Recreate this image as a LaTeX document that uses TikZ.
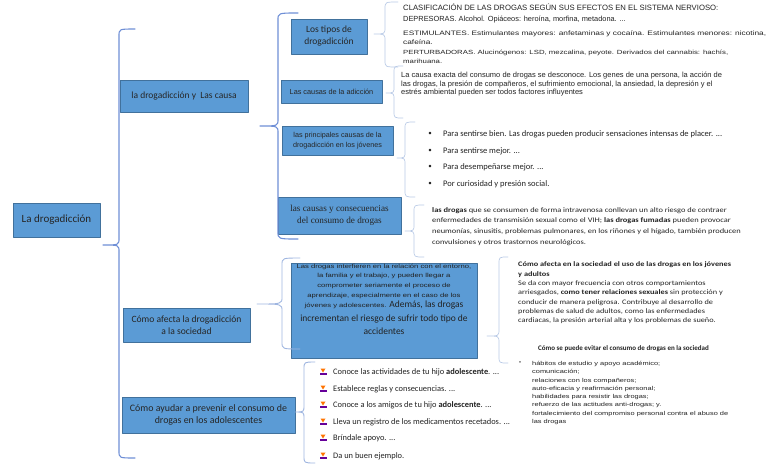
\documentclass[tikz,border=0pt]{standalone}
\usepackage{fontspec}
\setmainfont{Carlito}
\newfontfamily\arialf{Liberation Sans}
\newfontfamily\widearial[FakeStretch=1.3]{Liberation Sans}
\newfontfamily\widecal[FakeStretch=1.2]{Carlito}
\newfontfamily\timesf{Liberation Serif}
\usetikzlibrary{calc,positioning}
\definecolor{boxblue}{HTML}{5B9BD5}
\definecolor{boxedge}{HTML}{41719C}
\definecolor{bracedark}{HTML}{6F8FD6}
\definecolor{bracemid}{HTML}{9FB6E0}
\definecolor{bracelight}{HTML}{B9CAE6}
\definecolor{inktext}{HTML}{222222}

% curly bracket: [style] tip, line offset, top, bottom, curl
\newcommand{\brc}[6][brace light]{%
  \draw[#1] ($(#2)+(#3+#6,#4)$) .. controls ($(#2)+(#3,#4)$) .. ($(#2)+(#3,#4+7)$)
    -- ($(#2)+(#3,-7)$) .. controls ($(#2)+(#3,0)$) .. (#2)
    .. controls ($(#2)+(#3,0)$) .. ($(#2)+(#3,7)$)
    -- ($(#2)+(#3,#5-7)$) .. controls ($(#2)+(#3,#5)$) .. ($(#2)+(#3+#6,#5)$);}
\newcommand{\bigline}[1]{{\rmfamily\fontsize{9.5}{11}\selectfont #1}}

\begin{document}
\begin{tikzpicture}[x=1pt,y=-1pt,line cap=round,line join=round,
  every node/.style={inner sep=1pt,text=inktext},
  box/.style={fill=boxblue,draw=boxedge,line width=0.8pt,inner sep=2pt,align=center,text=black!85},
  brace dark/.style={draw=bracedark,line width=1.1pt},
  brace mid/.style={draw=bracemid,line width=0.9pt},
  brace light/.style={draw=bracelight,line width=0.7pt},
  note/.style={anchor=west,align=left}]
  \useasboundingbox (0,0) rectangle (768,466);
  % boxes
  \node[box,minimum width=87pt,minimum height=34pt,font=\fontsize{11}{12}\selectfont] (root) at (56.5,220) {La drogadicción};
  \node[box,minimum width=128pt,minimum height=32pt,font=\fontsize{9.5}{11.5}\selectfont] (causa) at (184,96) {la drogadicción y~ Las causa};
  \node[box,minimum width=127pt,minimum height=34pt,font=\fontsize{9.6}{12}\selectfont] (afecta) at (186.5,325) {Cómo afecta la drogadicción\\a la sociedad};
  \node[box,minimum width=173pt,minimum height=36pt,font=\fontsize{9.9}{12}\selectfont] (ayudar) at (208.5,415) {Cómo ayudar a prevenir el consumo de\\drogas en los adolescentes};
  \node[box,minimum width=76pt,minimum height=35pt,font=\fontsize{9.5}{12}\selectfont] (tipos) at (329,36.5) {Los tipos de\\drogadicción};
  \node[box,minimum width=101pt,minimum height=23pt,font=\arialf\fontsize{7.3}{8}\selectfont] (adiccion) at (331.5,91.5) {Las causas de la adicción};
  \node[box,minimum width=111pt,minimum height=29pt,font=\arialf\fontsize{7.2}{10}\selectfont] (principales) at (337.5,140.5) {las principales causas de la\\drogadicción en los jóvenes};
  \node[box,minimum width=123pt,minimum height=37pt,font=\timesf\fontsize{9.2}{12}\selectfont] (consec) at (339.5,215.5) {las causas y consecuencias\\del consumo de drogas};
  \node[box,minimum width=186pt,minimum height=95pt] (bigbox) at (384,310.5) {};
  \node[anchor=north,align=center,inner sep=0pt,font=\widearial\fontsize{5.9}{9.7}\selectfont] (bigtext) at ([yshift=-1pt]bigbox.north)
    {Las drogas interfieren en la relación con el entorno,\\
     la familia y el trabajo, y pueden llegar a\\ comprometer seriamente el proceso de\\
     aprendizaje, especialmente en el caso de los\\[1pt]
     jóvenes y adolescentes. \bigline{Además, las drogas}\\[3.8pt]
     \bigline{incrementan el riesgo de sufrir todo tipo de}\\[3.8pt]
     \bigline{accidentes}};
  % braces
  \coordinate (t0) at (103,245);
  \brc[brace dark]{t0}{16}{-216}{213}{16}
  \coordinate (t1) at (260,126);
  \brc[brace dark]{t1}{18}{-113}{113}{20}
  \coordinate (t2) at (374,34);
  \brc{t2}{11}{-32}{33}{13}
  \coordinate (t3) at (386,93);
  \brc{t3}{8}{-27}{25}{9}
  \coordinate (t4) at (397,158);
  \brc{t4}{8}{-36}{39}{10}
  \coordinate (t5) at (405,231);
  \brc{t5}{9}{-26}{26}{10}
  \coordinate (t6) at (257,304);
  \brc[brace mid]{t6}{25}{-46}{45}{18}
  \coordinate (t7) at (487,336);
  \brc{t7}{12}{-79}{27}{9}
  \coordinate (t8) at (295,412);
  \brc[brace mid]{t8}{9}{-50}{51}{11}
  % drug types
  \node[note,font=\arialf\fontsize{7.7}{9}\selectfont] (clasif) at (402,7) {CLASIFICACIÓN DE LAS DROGAS SEGÚN SUS EFECTOS EN EL SISTEMA NERVIOSO:};
  \node[note,font=\arialf\fontsize{7.4}{9}\selectfont] (depre) at (402,20) {DEPRESORAS. Alcohol. Opiáceos: heroína, morfina, metadona. ...};
  \node[note,font=\widearial\fontsize{6.4}{9}\selectfont] (estim) at (402,37.5) {ESTIMULANTES. Estimulantes mayores: anfetaminas y cocaína. Estimulantes menores: nicotina,\\cafeína.};
  \node[note,font=\widearial\fontsize{6}{9}\selectfont] (pertur) at (402,57) {PERTURBADORAS. Alucinógenos: LSD, mezcalina, peyote. Derivados del cannabis: hachís,\\marihuana.};
  \node[note,font=\arialf\fontsize{7.5}{8.5}\selectfont] (exacta) at (400,84.5) {La causa exacta del consumo de drogas se desconoce. Los genes de una persona, la acción de\\
    las drogas, la presión de compañeros, el sufrimiento emocional, la ansiedad, la depresión y el\\
    estrés ambiental pueden ser todos factores influyentes};
  % reasons
  \foreach \yy/\t [count=\i] in {134/{Para sentirse bien. Las drogas pueden producir sensaciones intensas de placer. ...},
      151/{Para sentirse mejor. ...}, 167/{Para desempeñarse mejor. ...}, 184/{Por curiosidad y presión social.}}{
    \node[font=\fontsize{7}{8}\selectfont] (dot\i) at (430,\yy) {\textbullet};
    \node[note,font=\fontsize{8.5}{9}\selectfont] (razon\i) at (442,\yy) {\t};
  }
  \node[note,font=\widecal\fontsize{7}{10.8}\selectfont] (efectos) at (431,226.5) {\textbf{las drogas} que se consumen de forma intravenosa conllevan un alto riesgo de contraer\\
    enfermedades de transmisión sexual como el VIH; \textbf{las drogas fumadas} pueden provocar\\
    neumonías, sinusitis, problemas pulmonares, en los riñones y el hígado, también producen\\
    convulsiones y otros trastornos neurológicos.};
  % society
  \node[note,font=\widecal\fontsize{6.9}{9.33}\selectfont] (sociedad) at (517,293) {\textbf{Cómo afecta en la sociedad el uso de las drogas en los jóvenes}\\
    \textbf{y adultos}\\ Se da con mayor frecuencia con otros comportamientos\\
    arriesgados, \textbf{como tener relaciones sexuales} sin protección y\\
    conducir de manera peligrosa. Contribuye al desarrollo de\\
    problemas de salud de adultos, como las enfermedades\\
    cardiacas, la presión arterial alta y los problemas de sueño.};
  \node[font=\fontsize{7}{8}\selectfont\bfseries] (evitar) at (623.5,349) {Cómo se puede evitar el consumo de drogas en la sociedad};
  \node[font=\fontsize{4}{5}\selectfont] (evdot) at (520,363) {\textbullet};
  \node[note,font=\widearial\fontsize{5.7}{8.3}\selectfont] (evlista) at (531,393) {hábitos de estudio y apoyo académico;\\ comunicación;\\
    relaciones con los compañeros;\\ auto-eficacia y reafirmación personal;\\
    habilidades para resistir las drogas;\\ refuerzo de las actitudes anti-drogas; y.\\
    fortalecimiento del compromiso personal contra el abuso de\\ las drogas};
  % how to help
  \foreach \yy/\t [count=\i] in {372/{Conoce las actividades de tu hijo \textbf{adolescente}. ...},
      389/{Establece reglas y consecuencias. ...}, 405/{Conoce a los amigos de tu hijo \textbf{adolescente}. ...},
      422/{Lleva un registro de los medicamentos recetados. ...}, 438/{Bríndale apoyo. ...}, 456/{Da un buen ejemplo.}}{
    \fill[orange!90!red] (320.5,\yy-3.5) -- (325.5,\yy-3.5) -- (323,\yy+0.5) -- cycle;
    \fill[violet!80!blue] (319.5,\yy+1) rectangle (326.5,\yy+2.8);
    \node[note,font=\fontsize{8.4}{9}\selectfont] (paso\i) at (332,\yy) {\t};
  }
\end{tikzpicture}
\end{document}
